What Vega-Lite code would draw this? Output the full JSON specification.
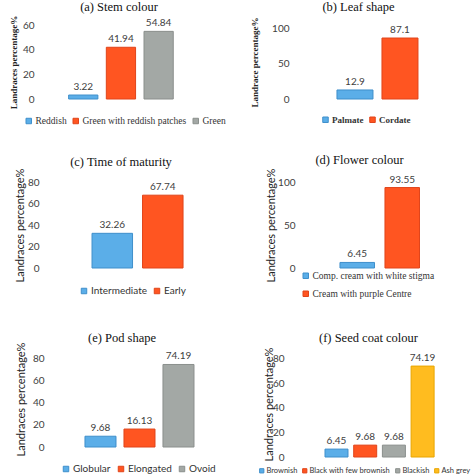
{
  "$schema": "https://vega.github.io/schema/vega-lite/v6.json",
  "padding": {"left": 9, "top": 0, "right": 0, "bottom": 0},
  "background": "white",
  "bounds": "flush",
  "spacing": 251,
  "config": {
    "view": {"stroke": null},
    "axis": {"grid": false, "domain": false, "ticks": false, "labelColor": "#404040", "labelFontSize": 10, "labelFont": "Lato", "titleColor": "#222"},
    "legend": {"symbolType": "square", "symbolSize": 30, "symbolStrokeWidth": 0, "labelColor": "#333", "labelOffset": 2, "columnPadding": 5, "padding": 0},
    "title": {"color": "#111", "font": "Liberation Serif", "fontWeight": "normal", "fontSize": 12.5, "frame": "group", "anchor": "middle", "baseline": "alphabetic"},
    "bar": {"strokeWidth": 1}
  },
  "data": {"values": [
    {"panel": "a", "cat": "Reddish", "value": 3.22},
    {"panel": "a", "cat": "Green with reddish patches", "value": 41.94},
    {"panel": "a", "cat": "Green", "value": 54.84},
    {"panel": "b", "cat": "Palmate", "value": 12.9},
    {"panel": "b", "cat": "Cordate", "value": 87.1},
    {"panel": "c", "cat": "Intermediate", "value": 32.26},
    {"panel": "c", "cat": "Early", "value": 67.74},
    {"panel": "d", "cat": "Comp. cream with white stigma", "value": 6.45},
    {"panel": "d", "cat": "Cream with purple Centre", "value": 93.55},
    {"panel": "e", "cat": "Globular", "value": 9.68},
    {"panel": "e", "cat": "Elongated", "value": 16.13},
    {"panel": "e", "cat": "Ovoid", "value": 74.19},
    {"panel": "f", "cat": "Brownish", "value": 6.45},
    {"panel": "f", "cat": "Black with few brownish", "value": 9.68},
    {"panel": "f", "cat": "Blackish", "value": 9.68},
    {"panel": "f", "cat": "Ash grey", "value": 74.19}
  ]},
  "resolve": {"scale": {"color": "independent", "stroke": "independent", "x": "independent", "y": "independent"}, "legend": {"color": "independent"}},
  "hconcat": [
    {
      "bounds": "flush",
      "spacing": 83,
      "resolve": {"scale": {"color": "independent", "stroke": "independent", "x": "independent", "y": "independent"}, "legend": {"color": "independent"}},
      "vconcat": [
        {
          "width": 180, "height": 74,
          "transform": [{"filter": "datum.panel == 'a'"}],
          "title": {"text": "(a) Stem colour", "dx": -18, "offset": 2},
          "encoding": {
            "x": {"field": "cat", "type": "nominal", "sort": null, "axis": null,
                  "scale": {"paddingInner": 0.224, "paddingOuter": 1.299, "align": 0.287}},
            "y": {"field": "value", "type": "quantitative",
                  "scale": {"domain": [0, 60], "nice": false},
                  "axis": {"values": [0, 20, 40, 60], "title": "Landraces percentage%", "labelPadding": 13, "titlePadding": 4,
                           "titleFont": "Liberation Serif", "titleFontWeight": "bold", "titleFontSize": 9}}
          },
          "layer": [
            {"mark": {"type": "bar"},
             "encoding": {"color": {"field": "cat", "type": "nominal",
                "scale": {"domain": ["Reddish", "Green with reddish patches", "Green"], "range": ["#5BAEE8", "#FF5521", "#A3A8A5"]},
                "legend": {"title": null, "orient": "none", "direction": "horizontal", "legendX": -23, "legendY": 91,
                           "labelFont": "Liberation Serif", "labelFontSize": 9.5, "columnPadding": 4}},
                "stroke": {"field": "cat", "type": "nominal", "legend": null,
                "scale": {"domain": ["Reddish", "Green with reddish patches", "Green"], "range": ["#3F8FCB", "#E0441A", "#8A8F8C"]}}}},
            {"mark": {"type": "text", "dy": -8, "font": "Lato", "fontSize": 10, "color": "#404040"},
             "encoding": {"text": {"field": "value", "type": "quantitative"}}}
          ]
        },
        {
          "width": 180, "height": 86,
          "transform": [{"filter": "datum.panel == 'c'"}],
          "title": {"text": "(c) Time of maturity", "dx": -16, "offset": 0},
          "encoding": {
            "x": {"field": "cat", "type": "nominal", "sort": null, "axis": null,
                  "scale": {"paddingInner": 0.198, "paddingOuter": 0.881, "align": 0.506}},
            "y": {"field": "value", "type": "quantitative",
                  "scale": {"domain": [0, 80], "nice": false},
                  "axis": {"values": [0, 20, 40, 60, 80], "title": "Landraces percentage%", "labelPadding": 8, "titlePadding": 2,
                           "titleFont": "Lato", "titleFontWeight": "normal", "titleFontSize": 11}}
          },
          "layer": [
            {"mark": {"type": "bar"},
             "encoding": {"color": {"field": "cat", "type": "nominal",
                "scale": {"domain": ["Intermediate", "Early"], "range": ["#5BAEE8", "#FF5521"]},
                "legend": {"title": null, "orient": "none", "direction": "horizontal", "legendX": 32, "legendY": 104,
                           "labelFont": "Lato", "labelFontSize": 10}},
                "stroke": {"field": "cat", "type": "nominal", "legend": null,
                "scale": {"domain": ["Intermediate", "Early"], "range": ["#3F8FCB", "#E0441A"]}}}},
            {"mark": {"type": "text", "dy": -8, "font": "Lato", "fontSize": 10, "color": "#404040"},
             "encoding": {"text": {"field": "value", "type": "quantitative"}}}
          ]
        },
        {
          "width": 180, "height": 96,
          "transform": [{"filter": "datum.panel == 'e'"}],
          "title": {"text": "(e) Pod shape", "dx": -15, "offset": -2},
          "encoding": {
            "x": {"field": "cat", "type": "nominal", "sort": null, "axis": null,
                  "scale": {"paddingInner": 0.205, "paddingOuter": 0.91, "align": 0.535}},
            "y": {"field": "value", "type": "quantitative",
                  "scale": {"domain": [0, 86.3], "nice": false},
                  "axis": {"values": [0, 20, 40, 60, 80], "title": "Landraces percentage%", "labelPadding": 3, "titlePadding": 6,
                           "titleFont": "Lato", "titleFontWeight": "normal", "titleFontSize": 11}}
          },
          "layer": [
            {"mark": {"type": "bar"},
             "encoding": {"color": {"field": "cat", "type": "nominal",
                "scale": {"domain": ["Globular", "Elongated", "Ovoid"], "range": ["#5BAEE8", "#FF5521", "#A3A8A5"]},
                "legend": {"title": null, "orient": "none", "direction": "horizontal", "legendX": 14, "legendY": 113,
                           "labelFont": "Lato", "labelFontSize": 10}},
                "stroke": {"field": "cat", "type": "nominal", "legend": null,
                "scale": {"domain": ["Globular", "Elongated", "Ovoid"], "range": ["#3F8FCB", "#E0441A", "#8A8F8C"]}}}},
            {"mark": {"type": "text", "dy": -8, "font": "Lato", "fontSize": 10, "color": "#404040"},
             "encoding": {"text": {"field": "value", "type": "quantitative"}}}
          ]
        }
      ]
    },
    {
      "bounds": "flush",
      "spacing": 83,
      "resolve": {"scale": {"color": "independent", "stroke": "independent", "x": "independent", "y": "independent"}, "legend": {"color": "independent"}},
      "vconcat": [
        {
          "width": 165, "height": 74,
          "transform": [{"filter": "datum.panel == 'b'"}],
          "title": {"text": "(b) Leaf shape", "dx": -22, "offset": 2},
          "encoding": {
            "x": {"field": "cat", "type": "nominal", "sort": null, "axis": null,
                  "scale": {"paddingInner": 0.2, "paddingOuter": 0.933, "align": 0.464}},
            "y": {"field": "value", "type": "quantitative",
                  "scale": {"domain": [0, 105.7], "nice": false},
                  "axis": {"values": [0, 50, 100], "title": "Landrace  percentage%", "labelPadding": 9, "titlePadding": 12,
                           "titleFont": "Liberation Serif", "titleFontWeight": "bold", "titleFontSize": 9}}
          },
          "layer": [
            {"mark": {"type": "bar"},
             "encoding": {"color": {"field": "cat", "type": "nominal",
                "scale": {"domain": ["Palmate", "Cordate"], "range": ["#5BAEE8", "#FF5521"]},
                "legend": {"title": null, "orient": "none", "direction": "horizontal", "legendX": 23, "legendY": 90,
                           "labelFont": "Liberation Serif", "labelFontSize": 9, "labelFontWeight": "bold", "columnPadding": 3}},
                "stroke": {"field": "cat", "type": "nominal", "legend": null,
                "scale": {"domain": ["Palmate", "Cordate"], "range": ["#3F8FCB", "#E0441A"]}}}},
            {"mark": {"type": "text", "dy": -8, "font": "Lato", "fontSize": 10, "color": "#404040"},
             "encoding": {"text": {"field": "value", "type": "quantitative"}}}
          ]
        },
        {
          "width": 165, "height": 86,
          "transform": [{"filter": "datum.panel == 'd'"}],
          "title": {"text": "(d) Flower colour", "dx": -21, "offset": 2},
          "encoding": {
            "x": {"field": "cat", "type": "nominal", "sort": null, "axis": null,
                  "scale": {"paddingInner": 0.233, "paddingOuter": 0.95, "align": 0.491}},
            "y": {"field": "value", "type": "quantitative",
                  "scale": {"domain": [0, 100], "nice": false},
                  "axis": {"values": [0, 50, 100], "title": "Landraces percentage%", "labelPadding": 3, "titlePadding": 1,
                           "titleFont": "Lato", "titleFontWeight": "normal", "titleFontSize": 11}}
          },
          "layer": [
            {"mark": {"type": "bar"},
             "encoding": {"color": {"field": "cat", "type": "nominal",
                "scale": {"domain": ["Comp. cream with white stigma", "Cream with purple Centre"], "range": ["#5BAEE8", "#FF5521"]},
                "legend": {"title": null, "orient": "none", "direction": "vertical", "legendX": 3, "legendY": 89, "rowPadding": 7,
                           "labelFont": "Liberation Serif", "labelFontSize": 9.5}},
                "stroke": {"field": "cat", "type": "nominal", "legend": null,
                "scale": {"domain": ["Comp. cream with white stigma", "Cream with purple Centre"], "range": ["#3F8FCB", "#E0441A"]}}}},
            {"mark": {"type": "text", "dy": -8, "font": "Lato", "fontSize": 10, "color": "#404040"},
             "encoding": {"text": {"field": "value", "type": "quantitative"}}}
          ]
        },
        {
          "width": 165, "height": 106,
          "transform": [{"filter": "datum.panel == 'f'"}],
          "title": {"text": "(f) Seed coat colour", "dx": -12, "offset": 3},
          "encoding": {
            "x": {"field": "cat", "type": "nominal", "sort": null, "axis": null,
                  "scale": {"paddingInner": 0.199, "paddingOuter": 0.974, "align": 0.483}},
            "y": {"field": "value", "type": "quantitative",
                  "scale": {"domain": [0, 86.5], "nice": false},
                  "axis": {"values": [0, 20, 40, 60, 80], "title": "Landraces percentage%", "labelPadding": 14, "titlePadding": -2,
                           "titleFont": "Lato", "titleFontWeight": "normal", "titleFontSize": 11}}
          },
          "layer": [
            {"mark": {"type": "bar"},
             "encoding": {"color": {"field": "cat", "type": "nominal",
                "scale": {"domain": ["Brownish", "Black with few brownish", "Blackish", "Ash grey"], "range": ["#5BAEE8", "#FF5521", "#A3A8A5", "#FFBC1F"]},
                "legend": {"title": null, "orient": "none", "direction": "horizontal", "legendX": -40, "legendY": 116,
                           "labelFont": "Lato", "labelFontSize": 7.5, "columnPadding": 2, "symbolSize": 18, "labelOffset": 1}},
                "stroke": {"field": "cat", "type": "nominal", "legend": null,
                "scale": {"domain": ["Brownish", "Black with few brownish", "Blackish", "Ash grey"], "range": ["#3F8FCB", "#E0441A", "#8A8F8C", "#E8A500"]}}}},
            {"mark": {"type": "text", "dy": -8, "font": "Lato", "fontSize": 10, "color": "#404040"},
             "encoding": {"text": {"field": "value", "type": "quantitative"}}}
          ]
        }
      ]
    }
  ]
}
